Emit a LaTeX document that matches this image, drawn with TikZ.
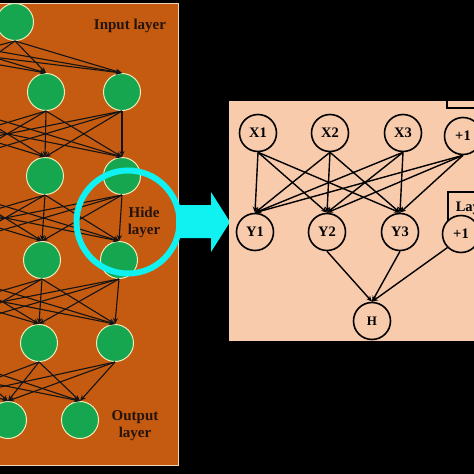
\documentclass[tikz,border=0pt]{standalone}
\usepackage{fontspec}
\setmainfont{Liberation Serif}
\usetikzlibrary{arrows.meta}
\definecolor{bgorange}{HTML}{C55A11}
\definecolor{peach}{HTML}{F8CBAD}
\definecolor{nodegreen}{HTML}{17A650}
\definecolor{nodeedge}{HTML}{EEEBB8}
\definecolor{edgecream}{HTML}{F2D8B8}
\definecolor{cyanc}{HTML}{10F2F2}
\definecolor{labeltext}{HTML}{24140C}
\begin{document}
\begin{tikzpicture}[x=1pt,y=-1pt,
  gnode/.style={circle,fill=nodegreen,draw=nodeedge,line width=1pt,minimum size=37pt,inner sep=0pt},
  wnode/.style={circle,draw=black,line width=1.6pt,fill=peach,minimum size=37pt,inner sep=0pt,font=\bfseries\fontsize{14.5}{14.5}\selectfont},
  ledge/.style={draw=black!92,line width=1.1pt,-{Stealth[length=6pt,width=5pt]}},
  redge/.style={draw=black,line width=1.4pt,-{Stealth[length=6pt,width=5pt]}},
  lbl/.style={font=\bfseries\fontsize{15}{17}\selectfont,text=labeltext}]
\useasboundingbox (0,0) rectangle (474,474);
\clip (0,0) rectangle (474,474);
\fill[black] (0,0) rectangle (474,474);
% ---------------- left panel ----------------
\draw[fill=bgorange,draw=edgecream,line width=1pt] (-5,3) rectangle (178,465);
% input layer
\foreach \i/\x in {1/-137,2/-61,3/15} \node[gnode] (a\i) at (\x,22) {};
% hidden layers
\foreach \i/\x in {1/-106,2/-30,3/46,4/122} \node[gnode] (b\i) at (\x,92) {};
\foreach \i/\x in {1/-108,2/-32,3/45,4/122} \node[gnode] (c\i) at (\x,176) {};
\foreach \i/\x in {1/-112,2/-35,3/42,4/119} \node[gnode] (d\i) at (\x,260) {};
\foreach \i/\x in {1/-113,2/-37,3/39,4/115} \node[gnode] (e\i) at (\x,343) {};
% output layer
\foreach \i/\x in {1/-64,2/8,3/80} \node[gnode] (f\i) at (\x,420) {};
% edges
\foreach \i in {1,2,3} \foreach \j in {1,2,3,4} \draw[ledge] (a\i.south) -- (b\j.north);
\foreach \i in {1,2,3,4} \foreach \j in {1,2,3,4} {
  \draw[ledge] (b\i.south) -- (c\j.north);
  \draw[ledge] (c\i.south) -- (d\j.north);
  \draw[ledge] (d\i.south) -- (e\j.north);
}
\foreach \i in {1,2,3,4} \foreach \j in {1,2,3} \draw[ledge] (e\i.south) -- (f\j.north);
% labels
\node[lbl] (tin) at (130,26) {Input layer};
\node[lbl,align=center] (thide) at (144,222) {Hide\\layer};
\node[lbl,align=center] (tout) at (135,426) {Output\\layer};
% zoom ring and arrow
\node[circle,draw=cyanc,line width=6pt,minimum size=103pt,inner sep=0pt] (ring) at (128,222) {};
\fill[cyanc] (176,205) -- (211,205) -- (211,192) -- (230,222) -- (211,252) -- (211,238) -- (176,238) -- cycle;
% ---------------- right panel ----------------
\fill[peach] (229,101) rectangle (480,341);
\draw[line width=1.6pt] (447,101) -- (447,108) -- (480,108);
\node[draw,line width=1.6pt,fill=peach,anchor=north west,minimum height=33pt,inner xsep=8pt,font=\bfseries\fontsize{14.5}{14.5}\selectfont] (labox) at (447,191) {Layer 2\hspace{20pt}};
\node[wnode] (x1) at (258,133) {X1};
\node[wnode] (x2) at (330,133) {X2};
\node[wnode] (x3) at (403,133) {X3};
\node[wnode] (x4) at (463,136) {+1};
\node[wnode] (y1) at (255,232) {Y1};
\node[wnode] (y2) at (327,232) {Y2};
\node[wnode] (y3) at (400,232) {Y3};
\node[wnode] (y4) at (461,234) {+1};
\node[wnode,font=\bfseries\fontsize{13}{13}\selectfont] (h) at (372,321) {H};
\foreach \i in {1,2,3,4} \foreach \j in {1,2,3} \draw[redge] (x\i.south) -- (y\j.north);
\draw[redge] (y2.south) -- (h.north);
\draw[redge] (y3.south) -- (h.north);
\draw[redge] (y4.south west) -- (h.north);
\end{tikzpicture}
\end{document}
